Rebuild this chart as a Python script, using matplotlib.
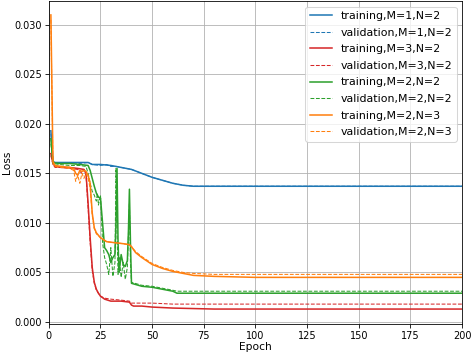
import matplotlib
matplotlib.use("Agg")
import matplotlib.pyplot as plt

# ---- data ----
blue_tr_x = [1, 2, 3, 5, 10, 15, 19, 21, 25, 30, 35, 40, 45, 50, 55, 60, 65, 70, 80, 100, 200]
blue_tr_y = [0.0193, 0.0162, 0.0161, 0.0161, 0.0161, 0.0161, 0.0161, 0.0159, 0.0159, 0.0158, 0.0156,
             0.0154, 0.0150, 0.0146, 0.0143, 0.0140, 0.0138, 0.0137, 0.0137, 0.0137, 0.0137]
blue_va_x = [1, 2, 3, 5, 10, 15, 19, 21, 25, 28, 30, 33, 35, 40, 45, 50, 55, 60, 65, 70, 80, 100, 200]
blue_va_y = [0.0190, 0.0161, 0.0161, 0.0160, 0.0161, 0.0160, 0.0161, 0.0159, 0.0158, 0.0159, 0.0157, 0.0157,
             0.0156, 0.0154, 0.0150, 0.0146, 0.0143, 0.0140, 0.0138, 0.0137, 0.0137, 0.0137, 0.0137]

red_tr_x = [1, 2, 3, 6, 10, 14, 17, 18, 19, 20, 21, 22, 23, 24, 25, 27, 30, 35, 39, 40, 41, 45, 50,
            60, 80, 100, 200]
red_tr_y = [0.0170, 0.0160, 0.0157, 0.0156, 0.0156, 0.0155, 0.0154, 0.0150, 0.0120, 0.0085, 0.0055,
            0.0040, 0.0033, 0.0029, 0.0026, 0.0023, 0.0021, 0.0021, 0.0020, 0.0017, 0.0016, 0.0016,
            0.0015, 0.0014, 0.0013, 0.0013, 0.0013]
red_va_x = [1, 2, 3, 6, 10, 14, 16, 17, 18, 19, 20, 21, 22, 23, 24, 25, 27, 30, 35, 39, 40, 41, 45,
            50, 60, 80, 100, 200]
red_va_y = [0.0168, 0.0159, 0.0156, 0.0156, 0.0155, 0.0154, 0.0150, 0.0154, 0.0148, 0.0115, 0.0080,
            0.0052, 0.0039, 0.0032, 0.0029, 0.0026, 0.0024, 0.0023, 0.0022, 0.0021, 0.0019, 0.0019,
            0.0019, 0.0019, 0.0018, 0.0018, 0.0018, 0.0018]

green_tr_x = [1, 2, 5, 10, 15, 19, 20, 21, 22, 23, 24, 25, 26, 27, 28, 29, 30, 31, 32, 32.5, 33,
              33.5, 34, 35, 36, 37, 38, 38.5, 39, 39.5, 40, 45, 50, 55, 60, 62, 70, 100, 200]
green_tr_y = [0.0185, 0.0161, 0.0160, 0.0160, 0.0159, 0.0158, 0.0153, 0.0145, 0.0137, 0.0130, 0.0126,
              0.0125, 0.0100, 0.0075, 0.0072, 0.0068, 0.0060, 0.0065, 0.0068, 0.0100, 0.0155, 0.0080,
              0.0050, 0.0068, 0.0058, 0.0056, 0.0062, 0.0090, 0.0134, 0.0080, 0.0039, 0.0036, 0.0035,
              0.0033, 0.0031, 0.0029, 0.0029, 0.0029, 0.0029]
green_va_x = [1, 2, 5, 10, 15, 18, 19, 20, 21, 22, 23, 23.5, 24, 25, 26, 27, 28, 29, 29.5, 30, 31,
              32, 32.5, 33, 33.5, 34, 35, 36, 37, 38, 39, 39.5, 40, 45, 50, 60, 62, 100, 200]
green_va_y = [0.0180, 0.0160, 0.0159, 0.0158, 0.0158, 0.0157, 0.0150, 0.0140, 0.0132, 0.0128, 0.0122,
              0.0130, 0.0118, 0.0128, 0.0080, 0.0065, 0.0058, 0.0048, 0.0060, 0.0075, 0.0046, 0.0060,
              0.0155, 0.0090, 0.0048, 0.0065, 0.0045, 0.0060, 0.0043, 0.0055, 0.0120, 0.0060, 0.0040,
              0.0037, 0.0036, 0.0032, 0.0031, 0.0031, 0.0031]

orange_tr_x = [1, 2, 3, 6, 10, 12, 13, 14, 15, 16, 17, 18, 19, 20, 21, 22, 23, 25, 28, 32, 36, 39,
               40, 42, 45, 50, 55, 60, 65, 70, 80, 100, 200]
orange_tr_y = [0.0310, 0.0162, 0.0158, 0.0157, 0.0156, 0.0155, 0.0150, 0.0148, 0.0153, 0.0152, 0.0153,
               0.0152, 0.0148, 0.0140, 0.0110, 0.0095, 0.0090, 0.0085, 0.0081, 0.0080, 0.0079, 0.0078,
               0.0076, 0.0070, 0.0065, 0.0058, 0.0054, 0.0051, 0.0049, 0.0047, 0.0046, 0.0045, 0.0045]
orange_va_x = [1, 2, 3, 6, 10, 12, 13, 14, 15, 16, 17, 18, 19, 20, 21, 22, 23, 25, 28, 32, 36, 39,
               40, 42, 45, 50, 55, 60, 65, 70, 80, 100, 200]
orange_va_y = [0.0305, 0.0160, 0.0157, 0.0156, 0.0155, 0.0153, 0.0142, 0.0148, 0.0140, 0.0150, 0.0145,
               0.0150, 0.0145, 0.0135, 0.0108, 0.0094, 0.0089, 0.0085, 0.0081, 0.0080, 0.0079, 0.0078,
               0.0076, 0.0071, 0.0066, 0.0059, 0.0055, 0.0052, 0.0050, 0.0049, 0.0048, 0.0048, 0.0048]

x_ticks = [0, 25, 50, 75, 100, 125, 150, 175, 200]
y_ticks = [0.000, 0.005, 0.010, 0.015, 0.020, 0.025, 0.030]

# ---- plot ----
fig = plt.figure(figsize=(474 / 74, 354 / 74), dpi=74)
ax = fig.add_axes([0.103, 0.085, 0.872, 0.912])

TR, VA = 1.5, 1.0
ax.plot(blue_tr_x, blue_tr_y, color="C0", lw=TR, label="training,M=1,N=2")
ax.plot(blue_va_x, blue_va_y, color="C0", lw=VA, ls="--", label="validation,M=1,N=2")
ax.plot(red_tr_x, red_tr_y, color="C3", lw=TR, label="training,M=3,N=2")
ax.plot(red_va_x, red_va_y, color="C3", lw=VA, ls="--", label="validation,M=3,N=2")
ax.plot(green_tr_x, green_tr_y, color="C2", lw=TR, label="training,M=2,N=2")
ax.plot(green_va_x, green_va_y, color="C2", lw=VA, ls="--", label="validation,M=2,N=2")
ax.plot(orange_tr_x, orange_tr_y, color="C1", lw=TR, label="training,M=2,N=3")
ax.plot(orange_va_x, orange_va_y, color="C1", lw=VA, ls="--", label="validation,M=2,N=3")

ax.set_xlim(0, 200)
ax.set_ylim(-0.0002, 0.0324)
ax.set_xticks(x_ticks)
ax.set_yticks(y_ticks)
ax.tick_params(labelsize=9.5)
ax.grid(True)
ax.set_xlabel("Epoch", labelpad=1, fontsize=10.4)
ax.set_ylabel("Loss", labelpad=2, fontsize=10.4)
ax.legend(loc="upper right", fontsize=10.7, labelspacing=0.6)

fig.savefig("out.png", dpi=74)
